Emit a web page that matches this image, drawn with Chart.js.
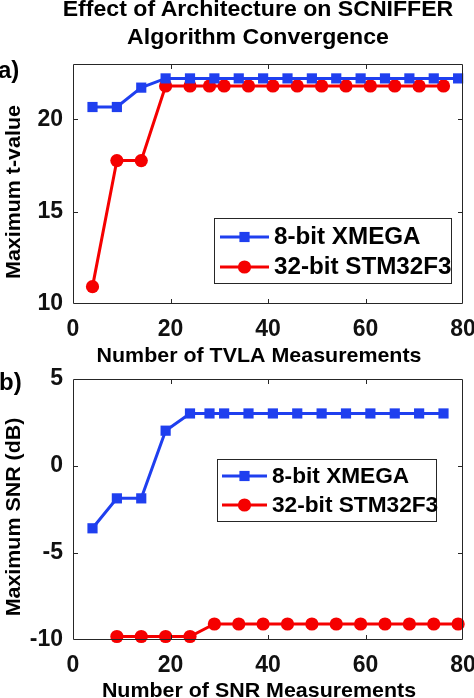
<!DOCTYPE html>
<html>
<head>
<meta charset="utf-8">
<script src="https://cdn.jsdelivr.net/npm/chart.js@4.4.0/dist/chart.umd.min.js"></script>
<style>
html,body{margin:0;padding:0;background:#fff;overflow:hidden;width:474px;height:698px;position:relative;}
.t{position:absolute;font-family:"Liberation Sans",Arial,Helvetica,sans-serif;font-weight:bold;color:#000;white-space:nowrap;}
#title{left:258px;top:-5px;text-align:center;font-size:22px;line-height:28px;transform:translateX(-50%) scaleX(1.05);}
#la{left:-2px;top:56px;font-size:24px;line-height:28px;}
#lb{left:-1px;top:368px;font-size:24px;line-height:28px;}
.wrap{position:absolute;left:0;width:474px;}
#w1{top:0;height:367px;}
#w2{top:367px;height:336px;}
</style>
</head>
<body>
<div class="wrap" id="w1"><canvas id="c1" width="474" height="367"></canvas></div>
<div class="wrap" id="w2"><canvas id="c2" width="474" height="336"></canvas></div>
<div class="t" id="title">Effect of Architecture on SCNIFFER<br>Algorithm Convergence</div>
<div class="t" id="la">a)</div>
<div class="t" id="lb">b)</div>
<script>
// ---------- data ----------
const seriesNames = ['8-bit XMEGA', '32-bit STM32F3'];

// (a) TVLA
const tvlaX8bit  = [4, 9, 14, 19, 24, 29, 34, 39, 44, 49, 54, 59, 64, 69, 74, 79];
const tvlaY8bit  = [20.67, 20.67, 21.72, 22.22, 22.22, 22.22, 22.22, 22.22, 22.22, 22.22, 22.22, 22.22, 22.22, 22.22, 22.22, 22.22];
const tvlaX32bit = [4, 9, 14, 19, 24, 28, 31, 36, 41, 46, 51, 56, 61, 66, 71, 76];
const tvlaY32bit = [10.94, 17.77, 17.77, 21.81, 21.81, 21.81, 21.81, 21.81, 21.81, 21.81, 21.81, 21.81, 21.81, 21.81, 21.81, 21.81];

// (b) SNR
const snrX8bit  = [4, 9, 14, 19, 24, 28, 31, 36, 41, 46, 51, 56, 61, 66, 71, 76];
const snrY8bit  = [-3.58, -1.86, -1.86, 2.03, 3.02, 3.02, 3.02, 3.02, 3.02, 3.02, 3.02, 3.02, 3.02, 3.02, 3.02, 3.02];
const snrX32bit = [9, 14, 19, 24, 29, 34, 39, 44, 49, 54, 59, 64, 69, 74, 79];
const snrY32bit = [-9.8, -9.8, -9.8, -9.8, -9.08, -9.08, -9.08, -9.08, -9.08, -9.08, -9.08, -9.08, -9.08, -9.08, -9.08];

const xTicks = [0, 20, 40, 60, 80];
const tvlaYTicks = [10, 15, 20];
const snrYTicks = [-10, -5, 0, 5];

const xTitleA = 'Number of TVLA Measurements';
const yTitleA = 'Maximum t-value';
const xTitleB = 'Number of SNR Measurements';
const yTitleB = 'Maximum SNR (dB)';

// ---------- styling ----------
const FONT = '"Liberation Sans", Arial, Helvetica, sans-serif';
const BLUE = '#1f3fef';
const RED = '#f50000';
const AXIS = '#262626';

function pts(xs, ys) { return xs.map((x, i) => ({x: x, y: ys[i]})); }

function ds(label, data, color, style) {
  return {
    label: label, data: data,
    borderColor: color, backgroundColor: color,
    borderWidth: 3, pointStyle: style,
    pointRadius: style === 'rect' ? 7.2 : 6.6,
    pointHoverRadius: style === 'rect' ? 7.2 : 6.6,
    pointBorderWidth: 0,
    tension: 0, clip: false, fill: false
  };
}

function marker(ctx, style, x, y, color) {
  ctx.fillStyle = color;
  if (style === 'rect') {
    const s = 7.2 / Math.SQRT2;
    ctx.fillRect(x - s, y - s, 2 * s, 2 * s);
  } else {
    ctx.beginPath(); ctx.arc(x, y, 6.6, 0, Math.PI * 2); ctx.fill();
  }
}

const matlabBox = {
  id: 'matlabBox',
  afterDraw(chart, args, o) {
    const ctx = chart.ctx, a = chart.chartArea;
    const xs = chart.scales.x, ys = chart.scales.y;
    ctx.save();
    ctx.strokeStyle = AXIS; ctx.lineWidth = 1;
    const L = Math.round(a.left) + 0.5, R = Math.round(a.right) - 0.5;
    const T = Math.round(a.top) + 0.5, B = Math.round(a.bottom) - 0.5;
    ctx.beginPath();
    ctx.rect(L, T, R - L, B - T);
    const tl = 4.5;
    xs.ticks.forEach(t => {
      const p = Math.round(xs.getPixelForValue(t.value)) + 0.5;
      if (p <= L + 1 || p >= R - 1) return;
      ctx.moveTo(p, B); ctx.lineTo(p, B - tl);
      ctx.moveTo(p, T); ctx.lineTo(p, T + tl);
    });
    ys.ticks.forEach(t => {
      const p = Math.round(ys.getPixelForValue(t.value)) + 0.5;
      if (p <= T + 1 || p >= B - 1) return;
      ctx.moveTo(L, p); ctx.lineTo(L + tl, p);
      ctx.moveTo(R, p); ctx.lineTo(R - tl, p);
    });
    ctx.stroke();

    // axis titles
    ctx.fillStyle = '#000';
    ctx.font = 'bold 21px ' + FONT;
    ctx.textAlign = 'center'; ctx.textBaseline = 'alphabetic';
    ctx.save();
    ctx.translate(o.xTitleX, o.xTitleBase);
    ctx.scale(1.02, 1);
    ctx.fillText(o.xTitle, 0, 0);
    ctx.restore();
    ctx.translate(o.yTitleBase, o.yTitleY);
    ctx.rotate(-Math.PI / 2);
    ctx.scale(1.02, 1);
    ctx.fillText(o.yTitle, 0, 0);
    ctx.restore();

    // legend
    const lg = o.legend;
    ctx.save();
    ctx.fillStyle = '#fff';
    ctx.fillRect(lg.x, lg.y, lg.w, lg.h);
    ctx.strokeStyle = AXIS; ctx.lineWidth = 1;
    ctx.strokeRect(lg.x + 0.5, lg.y + 0.5, lg.w - 1, lg.h - 1);
    ctx.font = 'bold ' + lg.size + 'px ' + FONT;
    ctx.textAlign = 'left'; ctx.textBaseline = 'middle';
    chart.data.datasets.forEach((d, i) => {
      const yy = lg.rows[i];
      ctx.strokeStyle = d.borderColor; ctx.lineWidth = 3;
      ctx.beginPath(); ctx.moveTo(lg.lineX0, yy); ctx.lineTo(lg.lineX1, yy); ctx.stroke();
      marker(ctx, d.pointStyle, (lg.lineX0 + lg.lineX1) / 2, yy, d.borderColor);
      ctx.fillStyle = '#000';
      ctx.save();
      ctx.translate(lg.textX, yy + 1);
      ctx.scale(1.03, 1);
      ctx.fillText(d.label, 0, 0);
      ctx.restore();
    });
    ctx.restore();
  }
};

function makeChart(id, datasets, yMin, yMax, yTicks, padTop, box) {
  return new Chart(document.getElementById(id), {
    type: 'line',
    data: { datasets: datasets },
    plugins: [matlabBox],
    options: {
      responsive: false, animation: false, devicePixelRatio: 1,
      layout: { padding: { top: padTop, right: 11, left: 0, bottom: 0 } },
      plugins: { legend: { display: false }, tooltip: { enabled: false }, matlabBox: box },
      scales: {
        x: {
          type: 'linear', min: 0, max: 80,
          afterBuildTicks: s => { s.ticks = xTicks.map(v => ({value: v})); },
          afterFit: s => { s.height = 63; s.paddingLeft = 0; s.paddingRight = 0; },
          grid: { display: false, drawTicks: false }, border: { display: false },
          ticks: { color: '#111', font: { family: FONT, size: 23, weight: 'bold' }, padding: 12, maxRotation: 0, autoSkip: false }
        },
        y: {
          type: 'linear', min: yMin, max: yMax,
          afterBuildTicks: s => { s.ticks = yTicks.map(v => ({value: v})); },
          afterFit: s => { s.width = 73; s.paddingTop = 0; s.paddingBottom = 0; },
          grid: { display: false, drawTicks: false }, border: { display: false },
          ticks: { color: '#111', font: { family: FONT, size: 23, weight: 'bold' }, padding: 10 }
        }
      }
    }
  });
}

makeChart('c1', [
  ds(seriesNames[0], pts(tvlaX8bit, tvlaY8bit), BLUE, 'rect'),
  ds(seriesNames[1], pts(tvlaX32bit, tvlaY32bit), RED, 'circle')
], 10, 23, tvlaYTicks, 64, {
  xTitle: xTitleA, xTitleX: 259, xTitleBase: 362,
  yTitle: yTitleA, yTitleBase: 20, yTitleY: 192,
  legend: { x: 214, y: 218, w: 238, h: 66, rows: [237, 267], lineX0: 220, lineX1: 269, textX: 274, size: 23.5 }
});

makeChart('c2', [
  ds(seriesNames[0], pts(snrX8bit, snrY8bit), BLUE, 'rect'),
  ds(seriesNames[1], pts(snrX32bit, snrY32bit), RED, 'circle')
], -10, 5, snrYTicks, 12, {
  xTitle: xTitleB, xTitleX: 259, xTitleBase: 330,
  yTitle: yTitleB, yTitleBase: 20, yTitleY: 150,
  legend: { x: 217, y: 92, w: 220, h: 63, rows: [109, 138], lineX0: 222, lineX1: 267, textX: 272, size: 22 }
});
</script>
</body>
</html>
